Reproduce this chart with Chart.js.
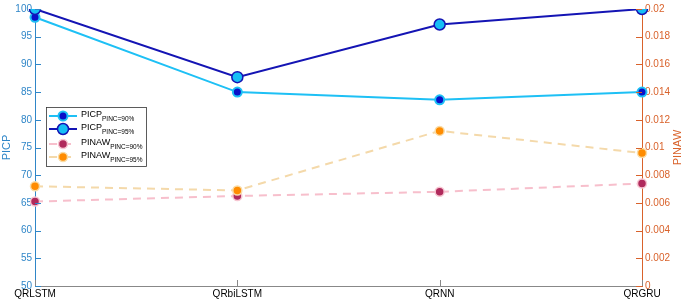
<!DOCTYPE html>
<html>
<head>
<meta charset="utf-8">
<script src="https://cdn.jsdelivr.net/npm/chart.js@4/dist/chart.umd.min.js"></script>
<style>
  html, body { margin: 0; padding: 0; background: #fff; }
  #wrap { width: 685px; height: 303px; position: relative; }
</style>
</head>
<body>
<div id="wrap"><canvas id="picpChart"></canvas></div>
<script>
// Data block
const models = ['QRLSTM', 'QRbiLSTM', 'QRNN', 'QRGRU'];
const picp90 = [98.5, 85.0, 83.6, 85.0];
const picp95 = [100, 87.7, 97.2, 100];
const pinaw90 = [0.0061, 0.0065, 0.0068, 0.0074];
const pinaw95 = [0.0072, 0.0069, 0.0112, 0.0096];
const legendNames = [
  ['PICP', 'PINC=90%'],
  ['PICP', 'PINC=95%'],
  ['PINAW', 'PINC=90%'],
  ['PINAW', 'PINC=95%']
];

const leftColor = '#2f86c8';
const rightColor = '#d9622b';
const font = 'Helvetica, "Liberation Sans", Arial, sans-serif';

// Inward tick marks, MATLAB style, plus right axis title read bottom-to-top
const innerTicks = {
  id: 'innerTicks',
  afterDraw(chart) {
    const ctx = chart.ctx;
    const area = chart.chartArea;
    const y = chart.scales.y, y2 = chart.scales.y2, x = chart.scales.x;
    ctx.save();
    ctx.lineWidth = 1;
    ctx.strokeStyle = leftColor;
    y.ticks.forEach(t => {
      const p = Math.round(y.getPixelForValue(t.value)) + 0.5;
      ctx.beginPath(); ctx.moveTo(area.left, p); ctx.lineTo(area.left + 6, p); ctx.stroke();
    });
    ctx.strokeStyle = rightColor;
    y2.ticks.forEach(t => {
      const p = Math.round(y2.getPixelForValue(t.value)) + 0.5;
      ctx.beginPath(); ctx.moveTo(area.right, p); ctx.lineTo(area.right - 6, p); ctx.stroke();
    });
    ctx.strokeStyle = '#888';
    x.ticks.forEach((t, i) => {
      const p = Math.round(x.getPixelForValue(i)) + 0.5;
      ctx.beginPath(); ctx.moveTo(p, area.bottom); ctx.lineTo(p, area.bottom - 6); ctx.stroke();
    });
    // right title
    ctx.translate(678, (area.top + area.bottom) / 2);
    ctx.rotate(-Math.PI / 2);
    ctx.fillStyle = rightColor;
    ctx.font = '11px ' + font;
    ctx.textAlign = 'center';
    ctx.textBaseline = 'middle';
    ctx.fillText('PINAW', 0, 0);
    ctx.restore();
  }
};

// Legend with subscripts
const subLegend = {
  id: 'subLegend',
  afterDraw(chart) {
    const ctx = chart.ctx;
    const bx = 46.5, by = 107.5, bw = 100, bh = 59;
    const rows = [116, 129, 144, 157];
    ctx.save();
    ctx.fillStyle = '#fff';
    ctx.fillRect(bx, by, bw, bh);
    ctx.strokeStyle = '#333';
    ctx.lineWidth = 0.8;
    ctx.strokeRect(bx, by, bw, bh);
    chart.data.datasets.forEach((ds, i) => {
      const yy = rows[i];
      ctx.strokeStyle = ds.borderColor;
      ctx.lineWidth = ds.borderWidth;
      ctx.setLineDash(ds.borderDash || []);
      ctx.beginPath(); ctx.moveTo(49, yy); ctx.lineTo(77, yy); ctx.stroke();
      ctx.setLineDash([]);
      ctx.beginPath();
      ctx.arc(63, yy, ds.pointRadius, 0, Math.PI * 2);
      ctx.fillStyle = ds.pointBackgroundColor;
      ctx.fill();
      ctx.lineWidth = ds.pointBorderWidth;
      ctx.strokeStyle = ds.pointBorderColor;
      ctx.stroke();
      ctx.fillStyle = '#000';
      ctx.textBaseline = 'alphabetic';
      ctx.font = '9px ' + font;
      ctx.fillText(legendNames[i][0], 81, yy + 1);
      const w = ctx.measureText(legendNames[i][0]).width;
      ctx.font = '6.5px ' + font;
      ctx.fillText(legendNames[i][1], 81 + w, yy + 5);
    });
    ctx.restore();
  }
};

const config = {
  type: 'line',
  data: {
    labels: models,
    datasets: [{
      label: 'PICP 90',
      data: picp90,
      yAxisID: 'y',
      borderColor: '#1ec0f5',
      borderWidth: 2,
      pointRadius: 4.5,
      pointBackgroundColor: '#0a10c8',
      pointBorderColor: '#1ec0f5',
      pointBorderWidth: 2,
      order: 2
    }, {
      label: 'PICP 95',
      data: picp95,
      yAxisID: 'y',
      borderColor: '#1414b4',
      borderWidth: 2,
      pointRadius: 5.5,
      pointBackgroundColor: '#16bff5',
      pointBorderColor: '#1414b4',
      pointBorderWidth: 1.5,
      order: 1
    }, {
      label: 'PINAW 90',
      data: pinaw90,
      yAxisID: 'y2',
      borderColor: '#f7bfcc',
      borderWidth: 2,
      borderDash: [8, 6],
      pointRadius: 4.5,
      pointBackgroundColor: '#b02a5c',
      pointBorderColor: '#f7c6d2',
      pointBorderWidth: 1.5,
      order: 4
    }, {
      label: 'PINAW 95',
      data: pinaw95,
      yAxisID: 'y2',
      borderColor: '#f4d9aa',
      borderWidth: 2,
      borderDash: [8, 6],
      pointRadius: 4.5,
      pointBackgroundColor: '#ff8c00',
      pointBorderColor: '#f9dca6',
      pointBorderWidth: 1.5,
      order: 3
    }]
  },
  options: {
    responsive: true,
    maintainAspectRatio: false,
    animation: false,
    layout: { padding: { top: 3, left: 0, right: 0, bottom: 0 } },
    plugins: {
      legend: { display: false },
      tooltip: { enabled: false }
    },
    scales: {
      x: {
        offset: false,
        grid: { display: false, drawTicks: false },
        border: { color: '#888', width: 1 },
        ticks: { color: '#000', font: { family: font, size: 10 }, padding: 2, maxRotation: 0, autoSkip: false },
        afterFit(scale) { scale.height = 17; }
      },
      y: {
        position: 'left',
        min: 50, max: 100,
        grid: { display: false, drawTicks: false },
        border: { color: leftColor, width: 1 },
        ticks: { stepSize: 5, color: leftColor, font: { family: font, size: 10 }, padding: 3 },
        title: { display: true, text: 'PICP', color: leftColor, font: { family: font, size: 11 }, padding: 0 },
        afterFit(scale) { scale.width = 35; }
      },
      y2: {
        position: 'right',
        min: 0, max: 0.02,
        grid: { display: false, drawTicks: false },
        border: { color: rightColor, width: 1 },
        ticks: {
          stepSize: 0.002, color: rightColor, font: { family: font, size: 10 }, padding: 3,
          callback: v => String(+v.toFixed(3))
        },
        afterFit(scale) { scale.width = 43; }
      }
    }
  },
  plugins: [innerTicks, subLegend]
};

const picpChart = new Chart(document.getElementById('picpChart'), config);
</script>
</body>
</html>
